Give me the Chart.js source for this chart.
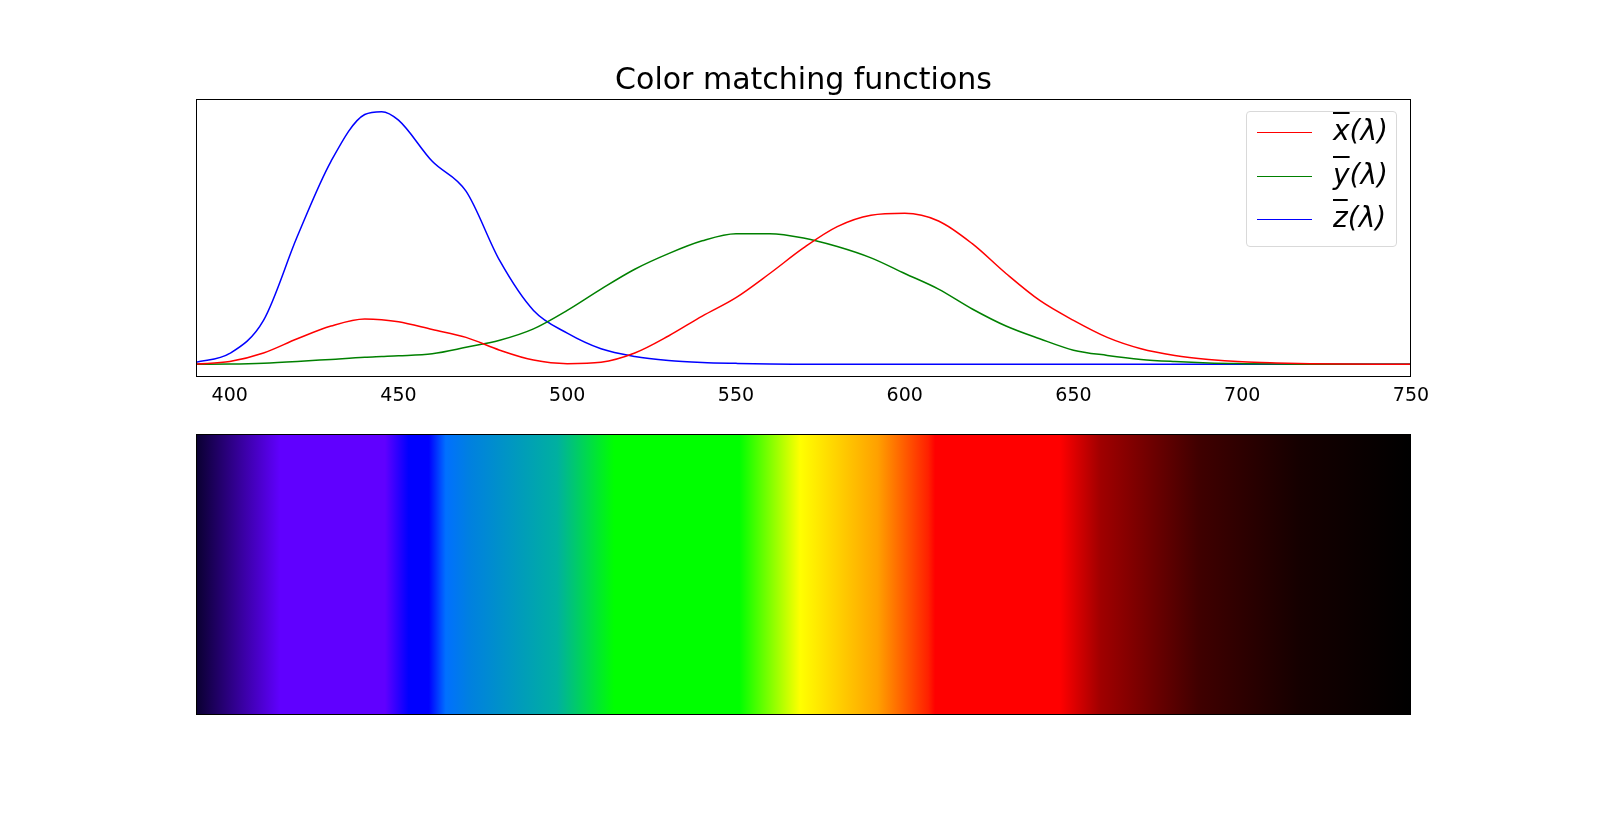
<!DOCTYPE html>
<html>
<head>
<meta charset="utf-8">
<script src="https://cdn.jsdelivr.net/npm/chart.js@4"></script>
<style>
  body { margin: 0; background: #fff; width: 1600px; height: 819px; position: relative; overflow: hidden; font-family: "DejaVu Sans", sans-serif; }
  #topWrap { position: absolute; left: 0; top: 0; width: 1600px; height: 410px; }
  #botWrap { position: absolute; left: 0; top: 434px; width: 1600px; height: 281px; }
  #legend { position: absolute; left: 1246px; top: 111px; width: 149px; height: 134px; border: 1px solid #d9d9d9; border-radius: 4px; background: rgba(255,255,255,0.8); }
  .item { position: absolute; left: 10px; height: 30px; width: 140px; }
  .item .ln { position: absolute; left: 0; top: 14px; width: 55px; height: 0; border-top: 1.5px solid; }
  .item .tx { position: absolute; left: 76px; top: -4px; font-size: 28px; font-style: italic; color: #000; white-space: nowrap; }
  .ov { text-decoration: overline; }
</style>
</head>
<body>
<div id="topWrap"><canvas id="cmfChart"></canvas></div>
<div id="botWrap"><canvas id="specChart"></canvas></div>
<div id="legend">
  <div class="item" style="top:6px"><div class="ln" style="border-color:red"></div><div class="tx"><span class="ov">x</span>(λ)</div></div>
  <div class="item" style="top:50px"><div class="ln" style="border-color:green"></div><div class="tx"><span class="ov">y</span>(λ)</div></div>
  <div class="item" style="top:93px"><div class="ln" style="border-color:blue"></div><div class="tx"><span class="ov">z</span>(λ)</div></div>
</div>
<script>
// wavelengths (nm) and values
const wavelengths = [390,400,410,420,430,440,445,450,460,470,480,490,500,510,520,530,540,550,560,570,580,590,600,610,620,630,640,650,660,670,680,690,700,710,720,750];
const xBar = [0.002,0.02,0.08,0.18,0.27,0.32,0.315,0.30,0.245,0.19,0.10,0.03,0.005,0.015,0.08,0.2,0.34,0.47,0.64,0.82,0.97,1.05,1.064,1.01,0.85,0.64,0.45,0.31,0.19,0.11,0.063,0.035,0.018,0.01,0.005,0.0];
const yBar = [0.0,0.002,0.008,0.02,0.035,0.05,0.055,0.06,0.075,0.12,0.17,0.25,0.38,0.53,0.67,0.78,0.87,0.92,0.92,0.89,0.83,0.75,0.64,0.53,0.39,0.27,0.18,0.10,0.063,0.035,0.02,0.01,0.005,0.002,0.001,0.0];
const zBar = [0.014,0.077,0.31,0.90,1.43,1.76,1.78,1.72,1.43,1.22,0.73,0.38,0.22,0.11,0.056,0.028,0.014,0.007,0.002,0.001,0,0,0,0,0,0,0,0,0,0,0,0,0,0,0,0];
const xTicks = [400,450,500,550,600,650,700,750];

// spectrum colour stops
const specNm = [390,415,446,453,459,464,471,497,514,551,569,592,607,609,646,658,687,717,750];
const specColors = ["#0a0030","#6000ff","#6000ff","#0000ff","#0000ff","#0070ff","#0080e0","#00b0a0","#00ff00","#00ff00","#ffff00","#ffa000","#ff2000","#ff0000","#ff0000","#a00000","#400000","#150000","#000000"];

const frame = {
  id: "frame",
  afterDraw(chart) {
    const a = chart.chartArea, c = chart.ctx;
    c.save();
    c.strokeStyle = "#000";
    c.lineWidth = 1;
    c.strokeRect(a.left + 0.5, a.top + 0.5, a.right - a.left - 1, a.bottom - a.top - 1);
    c.restore();
  }
};

function pts(vals) {
  return wavelengths.map((w, i) => ({ x: w, y: vals[i] }));
}

function lineSet(label, vals, color) {
  return {
    label: label,
    data: pts(vals),
    borderColor: color,
    borderWidth: 1.5,
    pointRadius: 0,
    cubicInterpolationMode: "monotone",
    fill: false,
  };
}

new Chart(document.getElementById("cmfChart"), {
  type: "line",
  data: {
    datasets: [
      lineSet("x", xBar, "red"),
      lineSet("y", yBar, "green"),
      lineSet("z", zBar, "blue"),
    ],
  },
  options: {
    responsive: true,
    maintainAspectRatio: false,
    animation: false,
    layout: { padding: { left: 196, right: 189, top: 0, bottom: 0 } },
    plugins: {
      legend: { display: false },
      tooltip: { enabled: false },
      title: {
        display: true,
        text: "Color matching functions",
        color: "#000",
        font: { size: 30, family: "DejaVu Sans", weight: "normal" },
        padding: { top: 63, bottom: 0 },
      },
    },
    scales: {
      x: {
        type: "linear",
        min: 390,
        max: 750,
        afterBuildTicks: (s) => { s.ticks = xTicks.map((v) => ({ value: v })); },
        afterFit: (s) => { s.height = 33; },
        grid: { display: false, drawTicks: true, tickLength: 6, color: "#000" },
        border: { display: false },
        ticks: { color: "#000", font: { size: 19, family: "DejaVu Sans" }, maxRotation: 0, padding: 2 },
      },
      y: {
        display: false,
        min: -0.089,
        max: 1.869,
      },
    },
  },
  plugins: [frame],
});

new Chart(document.getElementById("specChart"), {
  type: "line",
  data: {
    datasets: [{
      data: [{ x: 390, y: 1 }, { x: 750, y: 1 }],
      borderWidth: 0,
      pointRadius: 0,
      fill: "origin",
      backgroundColor: (ctx) => {
        const ch = ctx.chart;
        if (!ch.chartArea) return "#000";
        const xs = ch.scales.x;
        const g = ch.ctx.createLinearGradient(xs.left, 0, xs.right, 0);
        specNm.forEach((w, i) => {
          g.addColorStop((xs.getPixelForValue(w) - xs.left) / (xs.right - xs.left), specColors[i]);
        });
        return g;
      },
    }],
  },
  options: {
    responsive: true,
    maintainAspectRatio: false,
    animation: false,
    layout: { padding: { left: 196, right: 189, top: 0, bottom: 0 } },
    plugins: { legend: { display: false }, tooltip: { enabled: false } },
    scales: {
      x: { type: "linear", min: 390, max: 750, display: false },
      y: { min: 0, max: 1, display: false },
    },
  },
  plugins: [frame],
});
</script>
</body>
</html>
